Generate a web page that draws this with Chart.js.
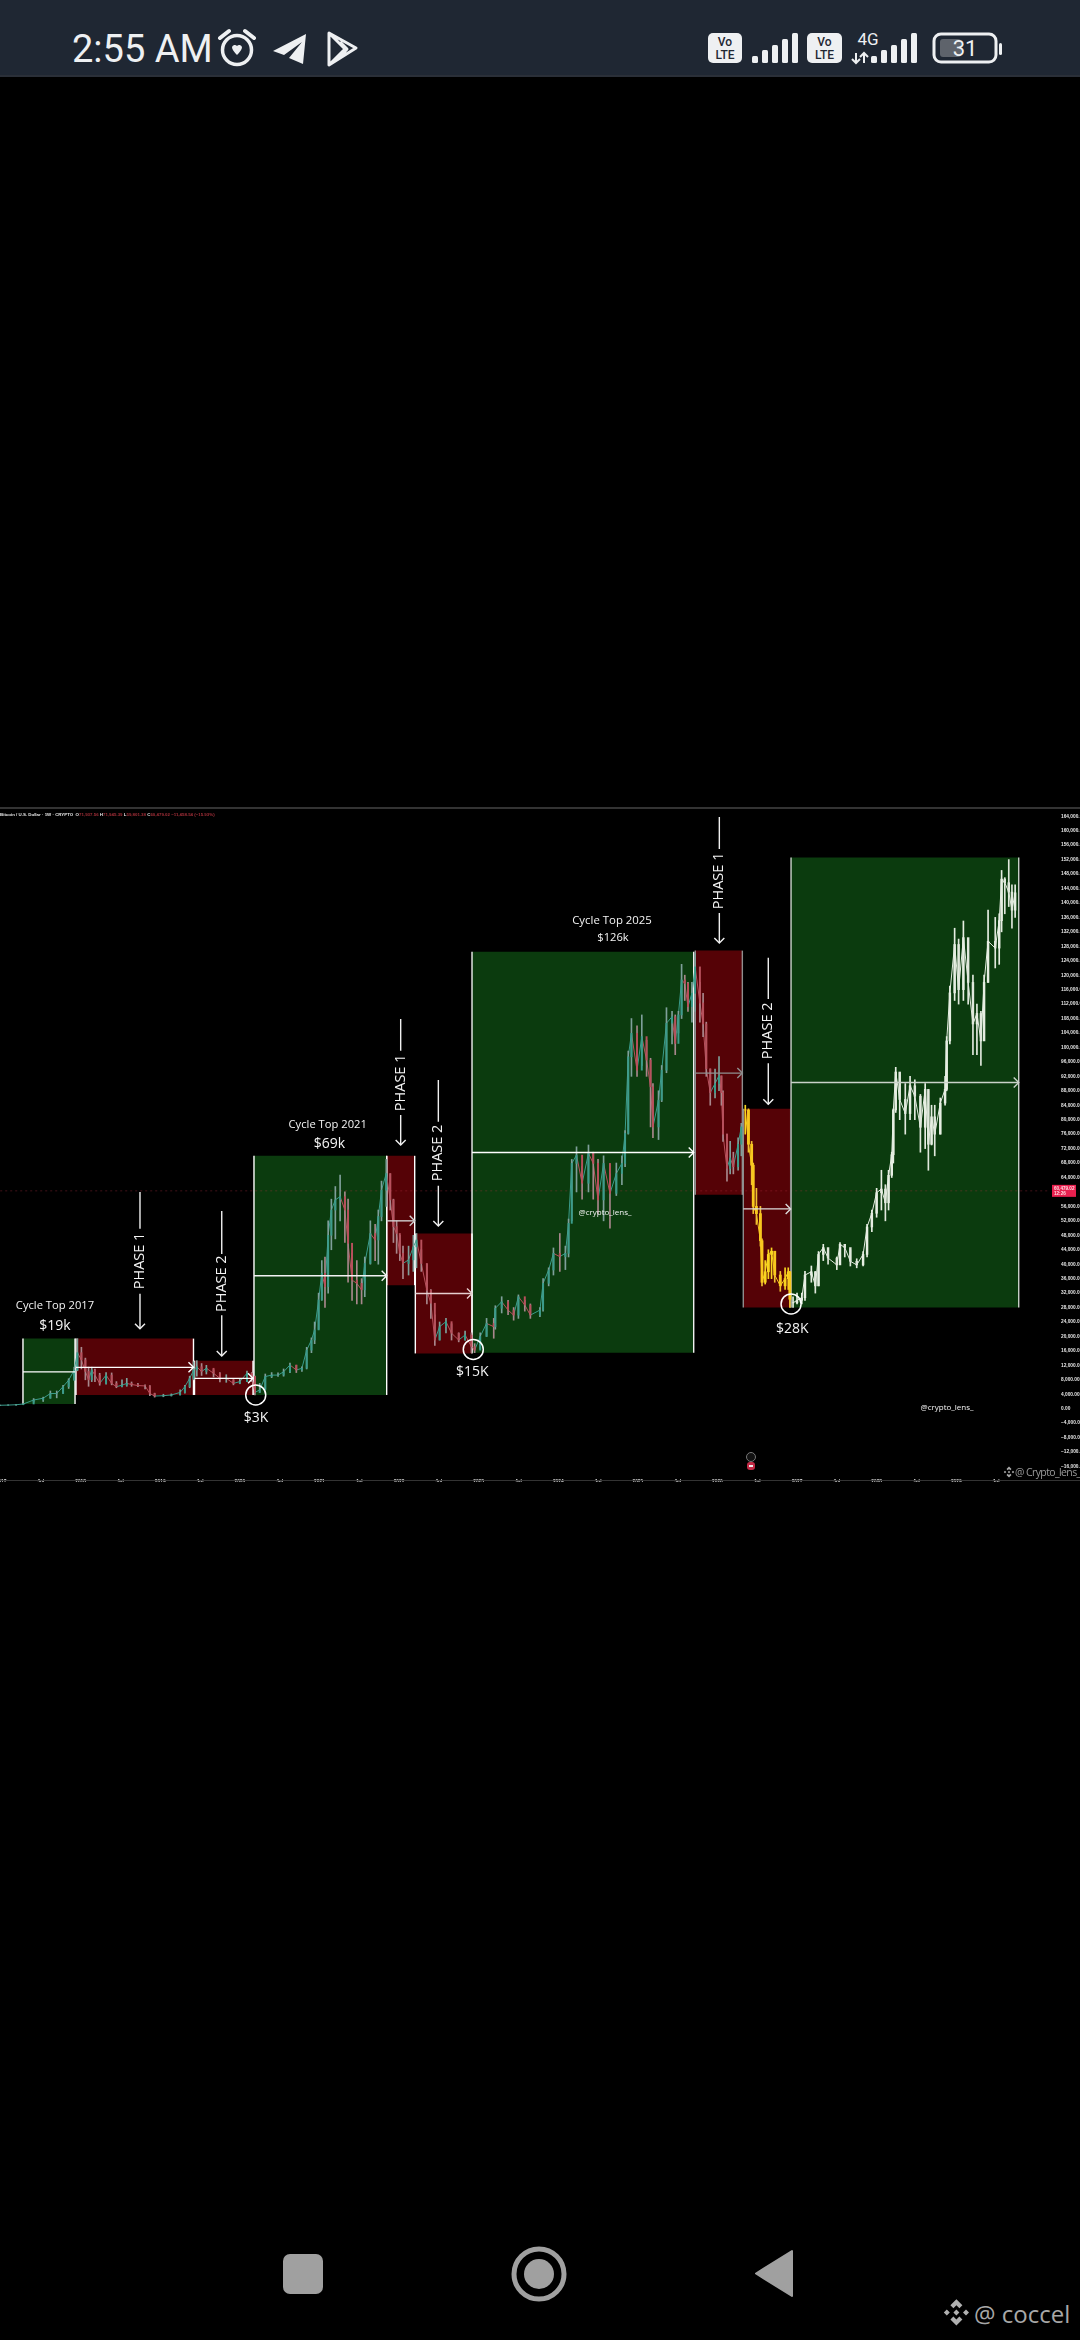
<!DOCTYPE html>
<html>
<head>
<meta charset="utf-8">
<title>BTC cycles</title>
<script src="https://cdn.jsdelivr.net/npm/chart.js@4"></script>
<style>
  html, body { margin: 0; padding: 0; background: #000; }
  body { position: relative; width: 1080px; height: 2340px; overflow: hidden; font-family: Roboto, sans-serif; }
  .abs { position: absolute; }
  #statusBar { left: 0; top: 0; width: 1080px; height: 77px; background: #1f2733; border-bottom: 2px solid #2a2f38; box-sizing: border-box; }
  #clock { left: 72px; top: 26px; font-size: 38px; line-height: 46px; color: #eef0f2; white-space: nowrap; }
  #chartTopLine { left: 0; top: 807px; width: 1080px; height: 2px; background: #333; }
  #chartBottomLine { left: 0; top: 1480px; width: 1080px; height: 1px; background: #333; }
  #myChart { left: 0; top: 808px; filter: blur(0.35px); }
  #legendLine { left: 0; top: 811px; font: bold 4.4px "Liberation Sans", sans-serif; line-height: 7px; color: #e8e8e8; white-space: nowrap; filter: blur(0.25px); }
  #legendLine span { color: #a52f39; }
  #chartMark { left: 1015px; top: 1463px; font: 10.5px "Open Sans", sans-serif; letter-spacing: -0.6px; line-height: 18px; color: #9a9a9a; white-space: nowrap; }
  #coccel { left: 974px; top: 2298px; font: 24px "Open Sans", sans-serif; line-height: 32px; color: #a8a8a8; white-space: nowrap; }
</style>
</head>
<body>
<div class="abs" id="statusBar"></div>
<div class="abs" id="clock">2:55 AM</div>
<svg class="abs" style="left:0;top:0" width="1080" height="76" fill="#eef0f2" font-family="Roboto, sans-serif">
  <!-- alarm -->
  <circle cx="237" cy="50" r="14.5" fill="none" stroke="#eef0f2" stroke-width="3.5"/>
  <path d="M220 38 L229 31 M254 38 L245 31" stroke="#eef0f2" stroke-width="4" stroke-linecap="round"/>
  <path d="M232 47 a3 3 0 0 1 5 -1 a3 3 0 0 1 5 1 q0 3 -5 8 q-5 -5 -5 -8z"/>
  <!-- telegram -->
  <path d="M306 34 L273 51 L284 55 L302 42 L289 58 L303 64 Z"/>
  <!-- play store -->
  <path d="M329 33 L356 48 L329 65 Z M329 33 L345 49 L329 65 M340 42 L347 49 L340 57" fill="none" stroke="#eef0f2" stroke-width="3" stroke-linejoin="round"/>
  <!-- sim 1 -->
  <rect x="708" y="33" width="34" height="30" rx="5"/>
  <text x="725" y="46" font-size="12" fill="#1f2733" text-anchor="middle" font-weight="500">Vo</text>
  <text x="725" y="59" font-size="12" fill="#1f2733" text-anchor="middle" font-weight="500">LTE</text>
  <rect x="752" y="56" width="6" height="7" rx="1.5"/><rect x="762" y="50" width="6" height="13" rx="1.5"/><rect x="772" y="45" width="6" height="18" rx="1.5"/><rect x="782" y="39" width="6" height="24" rx="1.5"/><rect x="792" y="33" width="6" height="30" rx="1.5"/>
  <!-- sim 2 -->
  <rect x="807" y="33" width="35" height="30" rx="5"/>
  <text x="824.5" y="46" font-size="12" fill="#1f2733" text-anchor="middle" font-weight="500">Vo</text>
  <text x="824.5" y="59" font-size="12" fill="#1f2733" text-anchor="middle" font-weight="500">LTE</text>
  <text x="868" y="45" font-size="17" text-anchor="middle">4G</text>
  <path d="M856 53 v10 M852 59 l4 4 l4 -4 M864 63 v-10 M860 57 l4 -4 l4 4" fill="none" stroke="#eef0f2" stroke-width="2"/>
  <rect x="871" y="56" width="6" height="7" rx="1.5"/><rect x="881" y="50" width="6" height="13" rx="1.5"/><rect x="891" y="45" width="6" height="18" rx="1.5"/><rect x="901" y="39" width="6" height="24" rx="1.5"/><rect x="911" y="33" width="6" height="30" rx="1.5"/>
  <!-- battery -->
  <rect x="934" y="34" width="62" height="28" rx="7" fill="none" stroke="#eef0f2" stroke-width="3"/>
  <rect x="940" y="39" width="21" height="18" rx="3" fill="#5e636b"/>
  <rect x="999" y="43" width="3" height="12" rx="1.5"/>
  <text x="965" y="56" font-size="22" text-anchor="middle">31</text>
</svg>

<div class="abs" id="chartTopLine"></div>
<canvas class="abs" id="myChart" width="1080" height="674"></canvas>
<div class="abs" id="chartBottomLine"></div>
<div class="abs" id="legendLine">Bitcoin / U.S. Dollar · 1W · CRYPTO &nbsp;O<span>71,937.56</span> H<span>71,945.39</span> L<span>59,801.38</span> C<span>60,479.02 −11,458.54 (−15.93%)</span></div>

<svg class="abs" style="left:744px;top:1450px" width="14" height="22">
  <circle cx="7" cy="7" r="4.5" fill="#111" stroke="#777" stroke-width="1"/>
  <rect x="3" y="12" width="8" height="8" rx="3" fill="#c22a45"/>
  <rect x="5" y="15" width="4" height="2" fill="#eee"/>
</svg>
<svg class="abs" style="left:1003px;top:1465px" width="12" height="14" viewBox="0 0 24 24" fill="#aaa">
  <path d="M12 1 L17 6 L14.5 8.5 L12 6 L9.5 8.5 L7 6Z M12 23 L7 18 L9.5 15.5 L12 18 L14.5 15.5 L17 18Z M12 9.5 L14.5 12 L12 14.5 L9.5 12Z M4 9.5 L6.5 12 L4 14.5 L1.5 12Z M20 9.5 L22.5 12 L20 14.5 L17.5 12Z"/>
</svg>
<div class="abs" id="chartMark">@ Crypto_lens_</div>

<svg class="abs" style="left:0;top:2240px" width="1080" height="100" fill="#a0a0a0">
  <rect x="283" y="14" width="40" height="40" rx="7"/>
  <circle cx="539" cy="34" r="25" fill="none" stroke="#a0a0a0" stroke-width="5"/>
  <circle cx="539" cy="34" r="15"/>
  <path d="M792 11 L792 56 L756 33.5 Z" stroke="#a0a0a0" stroke-width="2" stroke-linejoin="round"/>
  <path transform="translate(942 58) scale(1.2)" fill="#b0b0b0" d="M12 1 L17 6 L14.5 8.5 L12 6 L9.5 8.5 L7 6Z M12 23 L7 18 L9.5 15.5 L12 18 L14.5 15.5 L17 18Z M12 9.5 L14.5 12 L12 14.5 L9.5 12Z M4 9.5 L6.5 12 L4 14.5 L1.5 12Z M20 9.5 L22.5 12 L20 14.5 L17.5 12Z"/>
</svg>
<div class="abs" id="coccel">@ coccel</div>

<script>
// all prices are in thousands of USD, x is the decimal year
const xTickValues = [2017, 2017.5, 2018, 2018.5, 2019, 2019.5, 2020, 2020.5, 2021, 2021.5, 2022, 2022.5, 2023, 2023.5, 2024, 2024.5, 2025, 2025.5, 2026, 2026.5, 2027, 2027.5, 2028, 2028.5, 2029, 2029.5];
const xTickLabels = ['2017', 'Jul', '2018', 'Jul', '2019', 'Jul', '2020', 'Jul', '2021', 'Jul', '2022', 'Jul', '2023', 'Jul', '2024', 'Jul', '2025', 'Jul', '2026', 'Jul', '2027', 'Jul', '2028', 'Jul', '2029', 'Jul'];
const yTickValues = [164, 160, 156, 152, 148, 144, 140, 136, 132, 128, 124, 120, 116, 112, 108, 104, 100, 96, 92, 88, 84, 80, 76, 72, 68, 64, 56, 52, 48, 44, 40, 36, 32, 28, 24, 20, 16, 12, 8, 4, 0, -4, -8, -12, -16];

// traded candles
const histYear = [2016.99, 2017.09, 2017.19, 2017.28, 2017.41, 2017.53, 2017.62, 2017.70, 2017.78, 2017.85, 2017.92, 2017.96,
  2018.01, 2018.06, 2018.10, 2018.14, 2018.18, 2018.24, 2018.32, 2018.39, 2018.45, 2018.52, 2018.58, 2018.64, 2018.72, 2018.81, 2018.87, 2018.93,
  2019.04, 2019.14, 2019.25, 2019.31, 2019.37, 2019.42, 2019.46, 2019.52, 2019.58, 2019.67, 2019.75, 2019.83, 2019.92,
  2020.00, 2020.09, 2020.15, 2020.19, 2020.25, 2020.32, 2020.40, 2020.48, 2020.55, 2020.63, 2020.71, 2020.78, 2020.84, 2020.90, 2020.94, 2020.99,
  2021.03, 2021.07, 2021.11, 2021.15, 2021.20, 2021.26, 2021.32, 2021.36, 2021.41, 2021.47, 2021.53, 2021.57, 2021.64, 2021.70, 2021.74, 2021.78, 2021.84, 2021.89, 2021.93, 2021.97,
  2022.01, 2022.05, 2022.12, 2022.18, 2022.22, 2022.28, 2022.35, 2022.40, 2022.45, 2022.51, 2022.59, 2022.66, 2022.75, 2022.83, 2022.91, 2022.95,
  2023.02, 2023.10, 2023.19, 2023.21, 2023.29, 2023.37, 2023.44, 2023.50, 2023.58, 2023.65, 2023.77, 2023.81, 2023.88, 2023.94,
  2024.02, 2024.09, 2024.13, 2024.17, 2024.23, 2024.30, 2024.38, 2024.44, 2024.50, 2024.57, 2024.65, 2024.73, 2024.80, 2024.84, 2024.88, 2024.92, 2024.99,
  2025.05, 2025.11, 2025.16, 2025.19, 2025.26, 2025.30, 2025.36, 2025.43, 2025.47, 2025.51, 2025.55, 2025.59, 2025.63, 2025.68, 2025.72, 2025.78, 2025.82, 2025.86, 2025.91, 2025.97,
  2026.02, 2026.05, 2026.07, 2026.12, 2026.16, 2026.20, 2026.26, 2026.30];
const histHigh = [1.0, 1.1, 1.2, 1.4, 2.8, 3.2, 4.9, 4.9, 6.5, 8.3, 11.5, 19.4,
  17, 14, 11.5, 11.5, 11, 9.8, 10, 9.9, 7.5, 8, 8.4, 7.4, 7, 6.6, 6.4, 4.3,
  4, 4.1, 5.2, 6.5, 9, 13, 13.3, 12.5, 12, 10.8, 10, 9.4, 7.8,
  8.4, 10.4, 10, 9, 7, 9.6, 10, 9.9, 11, 12.6, 12, 11.6, 17, 19.6, 24, 32,
  41, 42, 52, 58, 61.5, 64.7, 60, 58, 43, 41, 36, 42, 52, 51, 55, 63, 69, 65, 58, 52,
  48, 45, 45, 48, 48.5, 44, 40, 33, 26, 24, 25, 23.5, 21, 21.5, 21, 18,
  21, 25, 25, 28.5, 31, 30, 28, 31.5, 30, 29, 28, 36, 39, 44.5,
  48.5, 45, 52.5, 69, 72.5, 67, 73, 71, 69, 70, 65, 68, 70, 77, 99, 108, 106,
  109, 102, 97, 90, 88, 95, 111, 110, 109, 110, 123, 120, 118, 118, 126, 118, 115, 107, 94, 94,
  97.5, 92, 88, 76, 74, 71, 75, 79];
const histLow = [0.9, 0.95, 1.0, 1.1, 1.8, 2.0, 2.9, 3.0, 4.2, 5.6, 7.9, 10.5,
  11, 8, 6.2, 7.5, 7.5, 6.5, 6.8, 6.6, 5.8, 6, 6.2, 6.2, 6.1, 5.5, 3.6, 3.2,
  3.3, 3.5, 3.8, 4.3, 5.8, 8, 9, 9.2, 9.6, 8.8, 7.4, 7.3, 6.6,
  6.9, 7.5, 7.5, 3.8, 4.5, 5.5, 8.6, 8.9, 9, 10, 10, 10.3, 11, 15.5, 18, 22,
  30, 28, 32, 44, 47, 52, 46, 35, 30, 29, 29, 31, 40, 41, 40, 52, 56, 55, 46, 43,
  41, 36, 37, 38, 39, 38, 29, 25, 17.5, 19, 21, 19, 18.5, 19, 15.5, 15.5,
  16.5, 20, 19.5, 22, 26.5, 26, 24.5, 25, 27, 25, 25.5, 27, 34, 37,
  38, 38.5, 42, 52, 60, 58, 60, 58, 54, 52, 50, 59, 62, 67, 76, 92, 92,
  95, 92, 78, 75, 74.5, 85, 93, 101, 98, 104, 108, 113, 110, 107, 110, 107, 103, 92, 84, 86,
  88, 84, 74, 63, 65, 65, 66, 70];
const histClose = [0.95, 1.0, 1.1, 1.3, 2.4, 2.9, 4.2, 4.2, 6.1, 7.9, 10.7, 15.5,
  13.5, 10.3, 8, 10.7, 9.3, 7, 9.3, 7, 6.1, 6.5, 7, 6.7, 6.4, 6.3, 4.2, 3.5,
  3.6, 3.8, 4.5, 6.1, 8.4, 10.7, 11.6, 10.3, 11.2, 9.8, 8.4, 8.4, 7,
  7.5, 9.8, 8.9, 4.5, 5.2, 8.9, 9.3, 9.3, 10.2, 12.1, 10.7, 11.2, 16.2, 19, 21.8, 30.1,
  37.5, 33.8, 48, 55, 57.8, 58.7, 55, 45.8, 35.6, 34.7, 32.9, 40.2, 48.5, 46.7, 53.2, 60.5, 65.1, 57.8, 50.4, 48.5,
  43, 40.2, 41.2, 44.8, 46.7, 40.2, 32.8, 29.2, 19, 22.7, 24.1, 20.9, 19, 20.4, 17.2, 16.2,
  20, 23.6, 22.7, 27.8, 29.6, 27.3, 25.9, 31, 28.7, 25.9, 27.3, 34.7, 38.4, 43,
  42.1, 43, 51.3, 67.9, 70.2, 62.4, 70.7, 67.9, 57.8, 67.9, 59.6, 65.1, 67.9, 76.2, 97.4, 103.9, 93.7,
  103, 96.5, 89.1, 78, 85.4, 93.7, 106.7, 108.5, 101.1, 109, 118.7, 117.7, 111.3, 115, 122.3, 112.3, 106.5, 94.1, 87.5, 90,
  92.2, 87.5, 76, 66.5, 69.4, 67, 73.2, 78];

// projected drop, yellow in the picture
const dropYear = [2026.35, 2026.39, 2026.43, 2026.45, 2026.49, 2026.54, 2026.56, 2026.60, 2026.64, 2026.68, 2026.72, 2026.79, 2026.85, 2026.89, 2026.91];
const dropHigh = [84, 83, 74, 68, 61, 56, 47, 41, 44, 44.5, 42, 38, 39, 39, 38];
const dropLow = [76, 71, 62, 54, 51, 45, 34, 34.5, 36, 36, 35, 32.5, 33, 33, 28];
const dropClose = [82.7, 73.2, 67.4, 56, 54, 46.5, 35, 37.9, 42.7, 43.6, 37, 34, 36, 37.9, 30.3];

// projected rise, white in the picture
const riseYear = [2026.95, 2027.00, 2027.06, 2027.10, 2027.18, 2027.23, 2027.27, 2027.33, 2027.39, 2027.50, 2027.54, 2027.60, 2027.67, 2027.75, 2027.83, 2027.88, 2027.94,
  2028.00, 2028.06, 2028.11, 2028.15, 2028.19, 2028.21, 2028.24, 2028.29, 2028.36, 2028.42, 2028.48, 2028.55, 2028.61, 2028.65, 2028.69, 2028.73, 2028.80, 2028.86, 2028.88, 2028.92, 2028.98,
  2029.03, 2029.09, 2029.15, 2029.21, 2029.26, 2029.31, 2029.35, 2029.40, 2029.49, 2029.54, 2029.57, 2029.61, 2029.66, 2029.70, 2029.74];
const riseHigh = [31, 32, 32, 38, 39.5, 38, 43.5, 45.5, 44, 42, 46, 45.5, 44, 41.5, 43.5, 51, 55,
  61, 66, 62, 66, 71, 83, 94.5, 93, 90, 92, 91, 87, 90, 88, 84, 84, 86, 92, 103, 117, 133,
  130, 135, 130, 120, 112, 110, 120, 138, 136, 137, 149, 147, 152, 145, 145];
const riseLow = [28, 29, 29, 30, 35, 32, 34, 41, 40, 38.5, 40, 42, 39.5, 39, 39.5, 42, 49,
  53, 55, 52, 55, 64, 68, 82, 80, 76, 80, 80, 71, 72, 66, 73, 70, 76, 84, 88, 101, 113,
  112, 113, 112, 98, 98, 95, 103, 118, 122, 123, 132, 137, 139, 133, 136];
const riseClose = [29.3, 30, 30.7, 37, 37.9, 34, 42.7, 44.6, 41.7, 39.8, 45.5, 44.6, 40.8, 39.8, 42.7, 50.3, 54.1,
  59.8, 60.8, 57, 64.6, 70.3, 82.7, 93.2, 85.6, 81.7, 89.4, 86.5, 77.9, 88.4, 73.2, 80.8, 76, 84.6, 88.4, 101.8, 115.1, 128.5,
  116, 130.4, 118, 106.5, 109.4, 101.8, 118, 129.4, 127.5, 135.1, 146.6, 145.6, 143, 138, 142.8];

// rising and falling zones
const zoneStart = [2017.276, 2017.942, 2019.431, 2020.178, 2021.845, 2022.205, 2022.917, 2025.722, 2026.325, 2026.925];
const zoneEnd = [2017.93, 2019.418, 2020.166, 2021.845, 2022.197, 2022.917, 2025.702, 2026.313, 2026.92, 2029.785];
const zoneLow = [1.3, 3.8, 3.8, 3.8, 34.2, 15.3, 15.5, 59.2, 28, 28];
const zoneHigh = [19.4, 19.4, 13.3, 70, 70, 48.5, 126.5, 126.8, 83, 152.6];
const zoneMid = [10.2, 11.45, 8.4, 36.8, 52, 31.9, 70.9, 92.9, 55.3, 90.3];
const zoneRising = [true, false, false, true, false, false, true, false, false, true];

// swing lows with a circle round them
const swingYear = [2020.200, 2022.933, 2026.925];
const swingPrice = [3.8, 16.4, 29.0];

// phase markers
const phaseNames = ['PHASE 1', 'PHASE 2', 'PHASE 1', 'PHASE 2', 'PHASE 1', 'PHASE 2'];
const phaseYear = [2018.746, 2019.773, 2022.021, 2022.494, 2026.024, 2026.639];
const phaseTop = [59.97, 54.7, 107.9, 91, 163.8, 124.8];
const phaseGapTop = [49.8, 42.8, 99.1, 79.4, 154.9, 113.4];
const phaseText = [40.9, 34.6, 90.2, 70.8, 146.1, 104.6];
const phaseGapBottom = [31.8, 25.9, 81.3, 61.7, 137.2, 95.6];
const phaseTip = [22.1, 14.6, 73.0, 50.6, 128.9, 84.3];

// text on the chart
const noteText = ['Cycle Top 2017', '$19k', 'Cycle Top 2021', '$69k', '$3K', 'Cycle Top 2025', '$126k', '$15K', '$28K', '@crypto_lens_', '@crypto_lens_'];
const noteYear = [2017.678, 2017.678, 2021.104, 2021.127, 2020.203, 2024.676, 2024.688, 2022.921, 2026.941, 2024.588, 2028.884];
const notePrice = [28.5, 23.0, 78.5, 73.3, -2.6, 135.0, 130.3, 10.2, 22.1, 54.2, 0.2];

const lastPrice = 60.3;
const lastPriceLabel = '60,479.02';
const lastPriceTime = '12:26';

// styles
const noteFont = ['11.2px', '14px', '11.2px', '14px', '14px', '11.4px', '11.2px', '14px', '14px', '8px', '8px'];
const edgeColors = ['#fff', '#fff', '#fff', '#fff', '#fff', '#fff', '#f0f0f0', '#8f8f8f', '#8f8f8f', '#c9d2c9'];
const arrowColors = ['#fff', '#fff', '#fff', '#f2f2f2', '#cfcfcf', '#e6cfcf', '#fff', '#8f8f8f', '#dcdcdc', '#c9d2c9'];
const arrowHead = [false, true, true, true, true, true, true, true, true, true];
const TEXT_FONT = '"Open Sans", sans-serif';

function candleDatasets(years, highs, lows, closes, look) {
  const wicks = years.map((x, i) => ({ x, y: [lows[i], highs[i]] }));
  const bodies = years.map((x, i) => ({ x, y: [i ? closes[i - 1] : closes[i], closes[i]] }));
  const falling = closes.map((c, i) => i > 0 && c < closes[i - 1]);
  return [
    { type: 'line', data: years.map((x, i) => ({ x, y: closes[i] })), borderWidth: 1, pointRadius: 0, tension: 0, order: 12,
      segment: { borderColor: ctx => (ctx.p1.parsed.y < ctx.p0.parsed.y ? look.down : look.up) } },
    { type: 'bar', data: wicks, backgroundColor: falling.map(f => (f ? look.wickDown : look.wickUp)), barThickness: 1, grouped: false, order: 11 },
    { type: 'bar', data: bodies, backgroundColor: falling.map(f => (f ? look.down : look.up)), barThickness: look.body, grouped: false, order: 10 },
  ];
}

function segmentLine(x0, y0, x1, y1, color, width, order) {
  return { type: 'line', data: [{ x: x0, y: y0 }, { x: x1, y: y1 }], borderColor: color, borderWidth: width, pointRadius: 0, tension: 0, order };
}

const datasets = [];

// zones with edges and middle lines
zoneStart.forEach((start, i) => {
  datasets.push({
    type: 'line',
    data: [{ x: start, y: zoneHigh[i] }, { x: zoneEnd[i], y: zoneHigh[i] }],
    borderWidth: 0,
    pointRadius: 0,
    fill: { value: zoneLow[i] },
    backgroundColor: zoneRising[i] ? '#0b3b0e' : '#550206',
    order: 30,
  });
  datasets.push(segmentLine(start, zoneLow[i], start, zoneHigh[i], edgeColors[i], 1.4, 20));
  datasets.push(segmentLine(zoneEnd[i], zoneLow[i], zoneEnd[i], zoneHigh[i], edgeColors[i], 1.4, 20));
  datasets.push(segmentLine(start, zoneMid[i], zoneEnd[i], zoneMid[i], arrowColors[i], 1.4, 5));
});

// current price line
datasets.push(Object.assign(segmentLine(2016.99, lastPrice, 2030.178, lastPrice, 'rgba(190,50,70,0.35)', 1, 25), { borderDash: [2, 3] }));

datasets.push(...candleDatasets(histYear, histHigh, histLow, histClose, { up: '#3a9c8b', down: '#b8505c', wickUp: '#7f9f9a', wickDown: '#a8878c', body: 1.3 }));
datasets.push(...candleDatasets(dropYear, dropHigh, dropLow, dropClose, { up: '#f8d520', down: '#f8c81e', wickUp: '#f8d520', wickDown: '#f0c030', body: 2.2 }));
datasets.push(...candleDatasets(riseYear, riseHigh, riseLow, riseClose, { up: '#e6eee2', down: '#e0e8dc', wickUp: '#e6eee2', wickDown: '#e0e8dc', body: 1.8 }));

// phase leader lines
phaseYear.forEach((x, i) => {
  datasets.push(segmentLine(x, phaseTop[i], x, phaseGapTop[i], '#f0f0f0', 1.4, 4));
  datasets.push(segmentLine(x, phaseGapBottom[i], x, phaseTip[i], '#f0f0f0', 1.4, 4));
});

// circles round the swing lows
datasets.push({
  type: 'line',
  data: swingYear.map((x, i) => ({ x, y: swingPrice[i] })),
  showLine: false,
  pointRadius: 10,
  pointBackgroundColor: 'transparent',
  pointBorderColor: '#fff',
  pointBorderWidth: 1.5,
  order: 1,
});

function drawHead(ctx, px, py, dx, dy, color) {
  const size = 5;
  ctx.strokeStyle = color;
  ctx.lineWidth = 1.4;
  ctx.beginPath();
  ctx.moveTo(px - dx * size + dy * size, py - dy * size + dx * size);
  ctx.lineTo(px, py);
  ctx.lineTo(px - dx * size - dy * size, py - dy * size - dx * size);
  ctx.stroke();
}

const annotationPlugin = {
  id: 'annotations',
  afterDatasetsDraw(chart) {
    const { ctx, scales: { x, y } } = chart;
    ctx.save();
    zoneEnd.forEach((end, i) => {
      if (arrowHead[i]) drawHead(ctx, x.getPixelForValue(end), y.getPixelForValue(zoneMid[i]), 1, 0, arrowColors[i]);
    });
    phaseYear.forEach((year, i) => {
      const px = x.getPixelForValue(year);
      drawHead(ctx, px, y.getPixelForValue(phaseTip[i]), 0, 1, '#f0f0f0');
      ctx.save();
      ctx.translate(px, y.getPixelForValue(phaseText[i]));
      ctx.rotate(-Math.PI / 2);
      ctx.font = '14.5px ' + TEXT_FONT;
      ctx.fillStyle = '#f4f4f4';
      ctx.textAlign = 'center';
      ctx.textBaseline = 'middle';
      ctx.fillText(phaseNames[i], 0, 0);
      ctx.restore();
    });
    ctx.textAlign = 'center';
    ctx.textBaseline = 'middle';
    ctx.fillStyle = '#f4f4f4';
    noteText.forEach((text, i) => {
      ctx.font = noteFont[i] + ' ' + TEXT_FONT;
      ctx.fillText(text, x.getPixelForValue(noteYear[i]), y.getPixelForValue(notePrice[i]));
    });

    // last price tag on the axis
    const tagY = y.getPixelForValue(lastPrice);
    ctx.fillStyle = '#e8204f';
    ctx.fillRect(1052, tagY - 6, 24, 12);
    ctx.fillStyle = '#ffd9e0';
    ctx.font = 'bold 4.6px "Liberation Sans", sans-serif';
    ctx.textAlign = 'left';
    ctx.fillText(lastPriceLabel, 1054, tagY - 2.5);
    ctx.fillText(lastPriceTime, 1054, tagY + 2.8);
    ctx.restore();
  },
};

new Chart(document.getElementById('myChart'), {
  type: 'bar',
  data: { datasets },
  plugins: [annotationPlugin],
  options: {
    responsive: false,
    animation: false,
    devicePixelRatio: 1,
    layout: { padding: 0, autoPadding: false },
    plugins: { legend: { display: false }, tooltip: { enabled: false }, title: { display: false } },
    scales: {
      x: {
        type: 'linear',
        offset: false,
        min: 2016.9874,
        max: 2030.178,
        grid: { display: false },
        border: { display: false },
        afterBuildTicks: scale => { scale.ticks = xTickValues.map(value => ({ value })); },
        afterFit: scale => { scale.height = 12; scale.paddingLeft = 0; scale.paddingRight = 0; },
        ticks: {
          autoSkip: false,
          maxRotation: 0,
          padding: 1,
          color: '#dcdcdc',
          font: { family: '"Liberation Sans", sans-serif', size: 4.8, weight: 'bold' },
          callback: (value, index) => xTickLabels[index],
        },
      },
      y: {
        position: 'right',
        min: -16.97,
        max: 166.28,
        grid: { display: false },
        border: { display: false },
        afterBuildTicks: scale => { scale.ticks = yTickValues.map(value => ({ value })); },
        afterFit: scale => { scale.width = 30; scale.paddingTop = 0; scale.paddingBottom = 0; },
        ticks: {
          autoSkip: false,
          padding: 3,
          color: '#e6e6e6',
          font: { family: '"Liberation Sans", sans-serif', size: 4.8, weight: 'bold' },
          callback: value => (value === 0 ? '0.00' : (value * 1000).toLocaleString('en-US', { minimumFractionDigits: 2 }).replace('-', '−')),
        },
      },
    },
  },
});
</script>
</body>
</html>
